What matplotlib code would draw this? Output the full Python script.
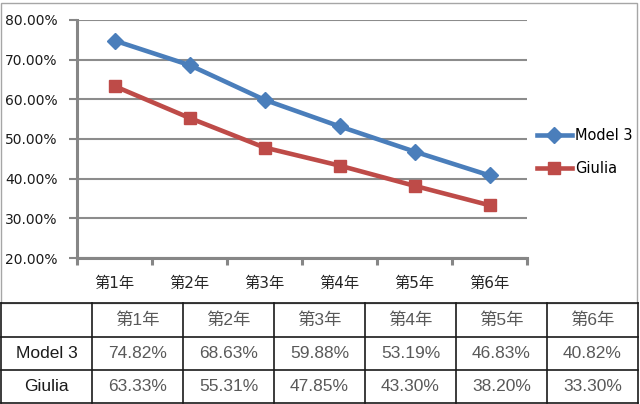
import matplotlib
matplotlib.use("Agg")
import matplotlib.pyplot as plt
from matplotlib.ticker import FixedLocator, FuncFormatter
from matplotlib.patches import Rectangle
from matplotlib.lines import Line2D

categories = ["第1年", "第2年", "第3年", "第4年", "第5年", "第6年"]
series_names = ["Model 3", "Giulia"]
model3 = [74.82, 68.63, 59.88, 53.19, 46.83, 40.82]
giulia = [63.33, 55.31, 47.85, 43.30, 38.20, 33.30]
y_ticks = [20, 30, 40, 50, 60, 70, 80]

W, H = 640, 404
fig = plt.figure(figsize=(W / 100, H / 100), dpi=100)
fig.patch.set_facecolor("white")

def fx(px):
    return px / W

def fy(py):
    return 1 - py / H

# chart frame
fig.add_artist(Rectangle((fx(1), fy(303)), fx(636), (302 - 2) / H, transform=fig.transFigure,
                         fill=False, edgecolor="#a6a6a6", linewidth=1.0))

ax = fig.add_axes([fx(77), fy(258), fx(450), (258 - 20) / H])
ax.set_facecolor("white")
x = list(range(len(categories)))
blue = "#4a7ebb"
red = "#be4b48"
ax.plot(x, model3, color=blue, lw=3.3, marker="D", ms=8.5, mfc=blue, mec=blue, label=series_names[0], zorder=4)
ax.plot(x, giulia, color=red, lw=3.3, marker="s", ms=8, mfc=red, mec=red, label=series_names[1], zorder=4)

ax.set_xlim(-0.5, len(categories) - 0.5)
ax.set_ylim(y_ticks[0], y_ticks[-1])
ax.yaxis.set_major_locator(FixedLocator(y_ticks))
ax.yaxis.set_major_formatter(FuncFormatter(lambda v, p: f"{v:.2f}%"))
ax.grid(axis="y", color="#8c8c8c", lw=1.5, zorder=1)
ax.set_axisbelow(True)

ax.set_xticks([i - 0.5 for i in range(len(categories) + 1)])
ax.set_xticklabels([])
ax.set_xticks(x, minor=True)
ax.set_xticklabels(categories, minor=True, fontsize=11, color="#262626",
                   family=["DejaVu Sans", "Noto Sans CJK SC"])
ax.tick_params(axis="x", which="major", length=5, width=2.2, color="#868686", direction="out")
ax.tick_params(axis="x", which="minor", length=0, pad=13)
ax.tick_params(axis="y", length=6, width=1.5, color="#868686", labelsize=10, pad=8, labelcolor="#1a1a1a")

for s in ["top", "right"]:
    ax.spines[s].set_visible(False)
for s in ["left", "bottom"]:
    ax.spines[s].set_color("#868686")
    ax.spines[s].set_linewidth(2.2)

leg = ax.legend(loc="center left", bbox_to_anchor=(fx(531), fy(152)), bbox_transform=fig.transFigure,
                frameon=False, fontsize=10.5, handlelength=2.4, handletextpad=0.2, labelspacing=1.2,
                borderaxespad=0)

# table
col_x = [1, 92, 183, 274, 365, 456, 547, 638]
row_y = [303, 337, 370, 403]
for yy in row_y:
    fig.add_artist(Line2D([fx(col_x[0]), fx(col_x[-1])], [fy(yy), fy(yy)], transform=fig.transFigure,
                          color="#1a1a1a", lw=1.2))
for xx in col_x:
    fig.add_artist(Line2D([fx(xx), fx(xx)], [fy(row_y[0]), fy(row_y[-1])], transform=fig.transFigure,
                          color="#1a1a1a", lw=1.2))

tfam = ["Liberation Sans", "Noto Sans CJK SC"]
rows = [[""] + categories,
        [series_names[0]] + [f"{v:.2f}%" for v in model3],
        [series_names[1]] + [f"{v:.2f}%" for v in giulia]]
for r, row in enumerate(rows):
    cy = (row_y[r] + row_y[r + 1]) / 2
    for c, txt in enumerate(row):
        cx = (col_x[c] + col_x[c + 1]) / 2
        color = "#1a1a1a" if c == 0 else "#595959"
        fig.text(fx(cx), fy(cy), txt, ha="center", va="center", fontsize=12.5, color=color, family=tfam)

fig.savefig("out.png", dpi=100)
